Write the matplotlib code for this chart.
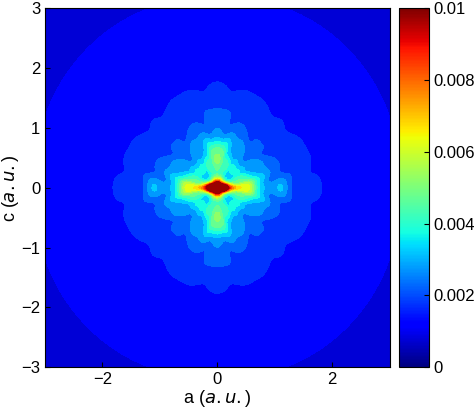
import numpy as np
import matplotlib
matplotlib.use("Agg")
import matplotlib.pyplot as plt

plt.rcParams['font.family'] = ['Liberation Sans', 'DejaVu Sans']

xlim = [-3, 3]
ylim = [-3, 3]
xticks = [-2, 0, 2]
yticks = [-3, -2, -1, 0, 1, 2, 3]
cbar_ticks = [0, 0.002, 0.004, 0.006, 0.008, 0.01]
cbar_labels = ["0", "0.002", "0.004", "0.006", "0.008", "0.01"]
vmax = 0.01

a = np.linspace(-3, 3, 500)
c = np.linspace(-3, 3, 500)
A, C = np.meshgrid(a, c)
R = np.hypot(A, C)
T = np.arctan2(C, A)

f = 0.0005 + 0.00085 * np.exp(-(R / 3.4) ** 8)
f += 0.0008 * np.exp(-(R / 1.45) ** 4) * (1 + 0.2 * np.cos(4 * T)) * (1 + 0.2 * np.cos(9 * R + 3 * np.cos(8 * T)))
f += 0.0012 * np.exp(-(R / 0.85) ** 4) * (1 + 0.3 * np.cos(4 * T)) * (1 + 0.15 * np.cos(16 * R))
f += 0.003 * np.exp(-(C / 0.17) ** 2 - (A / 1.0) ** 2) * (0.55 + 0.45 * np.cos(11 * A)) ** 2
f += 0.0025 * np.exp(-(A / 0.15) ** 2 - (C / 0.9) ** 2) * (0.55 + 0.45 * np.cos(10 * C)) ** 2
f += 0.0012 * np.exp(-(R / 0.55) ** 2) * (0.6 + 0.4 * np.cos(14 * R))
f += 0.0075 * np.exp(-(A / 0.3) ** 2 - (C / 0.07) ** 2)
f += 0.0004 * np.exp(-((R - 3.0) / 0.3) ** 2) * (np.sin(2 * T) ** 2) * (0.5 + 0.5 * np.cos(18 * R))
f = np.clip(f, 0, vmax)

fig = plt.figure(figsize=(4.74, 4.08), dpi=100)
ax = fig.add_axes([0.095, 0.1, 0.727, 0.88])
cax = fig.add_axes([0.842, 0.1, 0.063, 0.88])
levels = np.linspace(0, vmax, 21)
ax.contourf(A, C, f, levels=levels, cmap="jet", vmin=0, vmax=vmax)
ax.set_xlim(xlim); ax.set_ylim(ylim)
ax.set_xticks(xticks); ax.set_yticks(yticks)
ax.tick_params(labelsize=12, direction="in")
ax.set_xlabel("a ($\\it{a.u.}$)", fontsize=13, labelpad=1)
ax.set_ylabel("c ($\\it{a.u.}$)", fontsize=13, labelpad=0)
sm = plt.cm.ScalarMappable(cmap="jet", norm=plt.Normalize(0, vmax))
cb = fig.colorbar(sm, cax=cax, ticks=cbar_ticks)
cb.ax.set_yticklabels(cbar_labels)
cb.ax.tick_params(labelsize=12, direction="in")
fig.savefig("out.png", dpi=100)
